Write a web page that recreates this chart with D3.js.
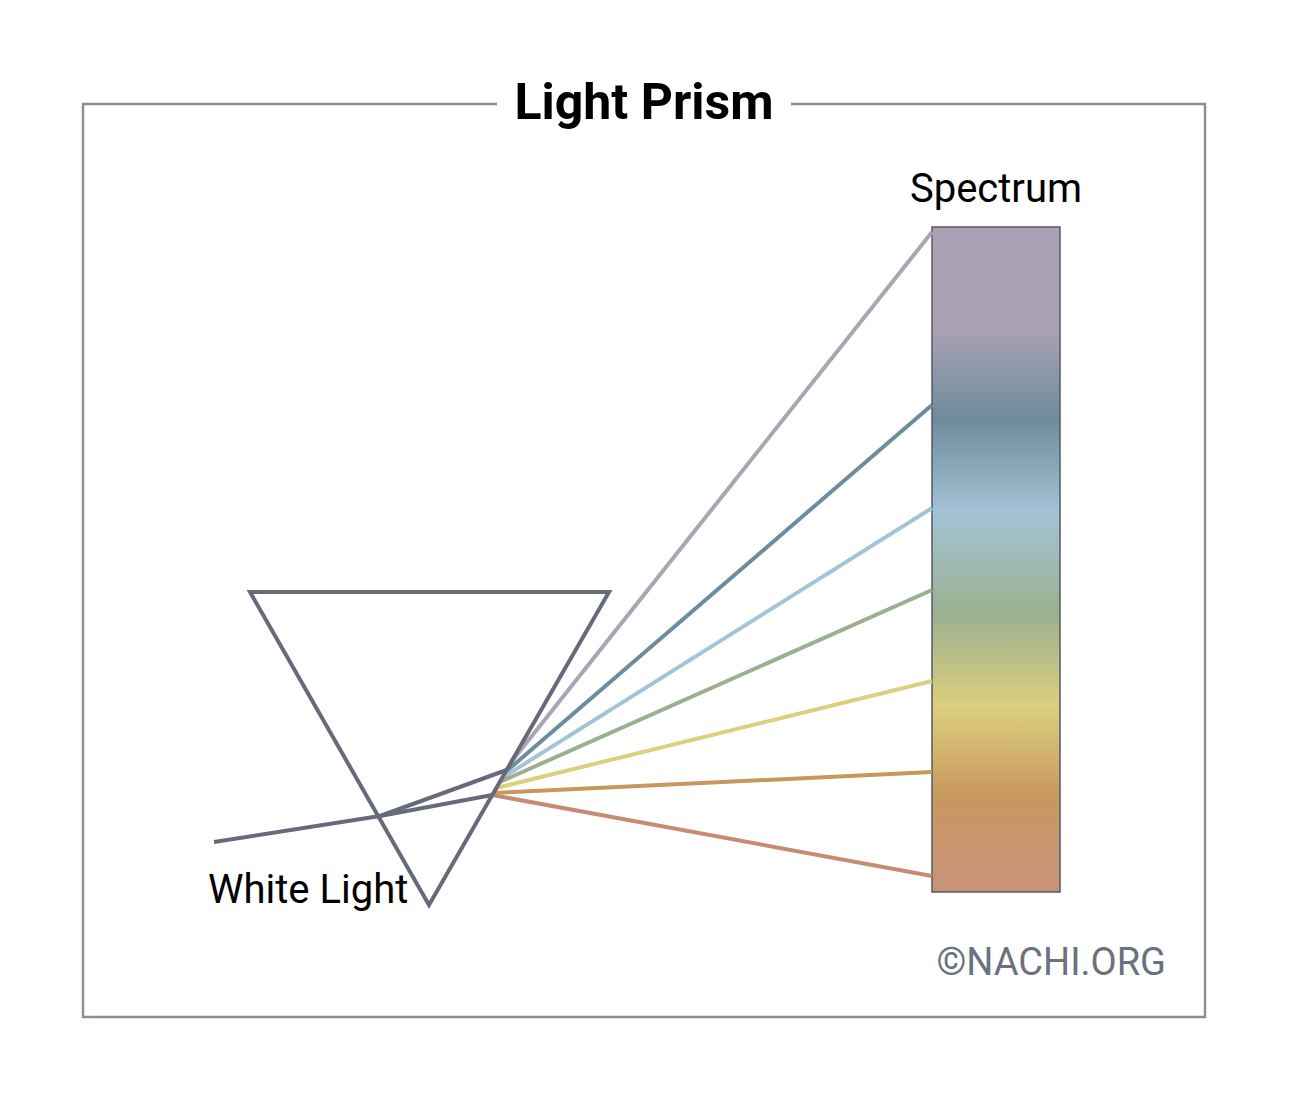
<!DOCTYPE html>
<html><head><meta charset="utf-8">
<script src="https://cdn.jsdelivr.net/npm/d3@7"></script>
<style>body{margin:0;background:#fff}text{font-family:Roboto,"Liberation Sans",sans-serif}</style>
</head><body><svg width="1289" height="1101"></svg>
<script>
// rays: where they leave the prism (y on its right edge) and where they hit the spectrum
const rayNames = ['violet', 'blue', 'lightblue', 'green', 'yellow', 'orange', 'red'];
const rayColors = ['#ada3b3', '#6e8c9c', '#a3c3d6', '#9bb08f', '#dccf7e', '#c8975e', '#c78a72'];
const rayStartY = [762, 772, 778, 782, 788, 793, 795];
const rayEndY = [232, 405, 508, 590, 681, 772, 876];
// spectrum gradient stops
const stopOffsets = [0, 0.15, 0.29, 0.43, 0.58, 0.72, 0.86, 1];
const stopColors = ['#aaa2b4', '#aaa2b4', '#6e8c9c', '#a3c3d6', '#9bb08f', '#dccf7e', '#c8975e', '#c8927a'];

const svg = d3.select('svg');
const line = d3.line();
const grey = '#666b7a';

// frame with gap for the title
svg.append('path')
    .attr('d', 'M497,104 H83 V1017 H1205 V104 H791')
    .attr('fill', 'none').attr('stroke', '#8a9099').attr('stroke-width', 2.5);
svg.append('text').attr('x', 644).attr('y', 119).attr('text-anchor', 'middle')
    .style('font-size', '50px').style('font-weight', 'bold').text('Light Prism');

// spectrum
const grad = svg.append('defs').append('linearGradient').attr('id', 'spec')
    .attr('x1', 0).attr('x2', 0).attr('y1', 0).attr('y2', 1);
grad.selectAll('stop').data(stopOffsets).enter().append('stop')
    .attr('offset', d => d).attr('stop-color', (d, i) => stopColors[i]);
const specX = 932, specTop = 227, specBottom = 892;
svg.append('rect').attr('x', specX).attr('y', specTop).attr('width', 128)
    .attr('height', specBottom - specTop).attr('fill', 'url(#spec)')
    .attr('stroke', '#555a66').attr('stroke-width', 1.5);
svg.append('text').attr('x', 996).attr('y', 202).attr('text-anchor', 'middle')
    .style('font-size', '40px').text('Spectrum');

// prism right edge: (609,592) -> (429,905)
const edgeX = y => 609 + (y - 592) * (429 - 609) / (905 - 592);

svg.selectAll('.ray').data(rayNames).enter().append('path').classed('ray', true)
    .attr('d', (d, i) => line([[edgeX(rayStartY[i]), rayStartY[i]], [specX, rayEndY[i]]]))
    .attr('stroke', (d, i) => rayColors[i]).attr('stroke-width', 4).attr('fill', 'none');

// prism
svg.append('path').attr('d', line([[250, 592], [609, 592], [429, 905]]) + 'Z')
    .attr('fill', 'none').attr('stroke', grey).attr('stroke-width', 4);

// white light
svg.append('path').attr('d', line([[214, 842], [380, 816], [edgeX(770), 770]]))
    .attr('fill', 'none').attr('stroke', grey).attr('stroke-width', 4);
svg.append('path').attr('d', line([[380, 816], [edgeX(795), 795]]))
    .attr('fill', 'none').attr('stroke', grey).attr('stroke-width', 4);
svg.append('text').attr('x', 208).attr('y', 903)
    .style('font-size', '40px').text('White Light');

svg.append('text').attr('x', 1166).attr('y', 975).attr('text-anchor', 'end')
    .style('font-size', '38px').attr('fill', '#6b717e').text('©NACHI.ORG');
</script></body></html>
